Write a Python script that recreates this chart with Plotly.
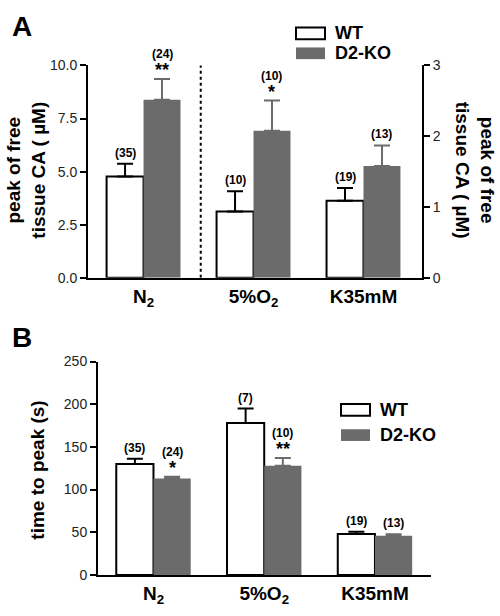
import plotly.graph_objects as go

# ---------------- data ----------------
categories = ["N<sub>2</sub>", "5%O<sub>2</sub>", "K35mM"]

# Panel A: peak of free tissue CA (µM); N2 & 5%O2 on left axis, K35mM on right axis
a_left_cats = ["N<sub>2</sub>", "5%O<sub>2</sub>"]
a_wt_left = [4.77, 3.12]
a_wt_left_err = [0.60, 0.96]
a_ko_left = [8.39, 6.93]
a_ko_left_err = [0.97, 1.42]
a_right_cats = ["K35mM"]
a_wt_right = [1.09]
a_wt_right_err = [0.18]
a_ko_right = [1.58]
a_ko_right_err = [0.29]
a_wt_n = ["(35)", "(10)", "(19)"]
a_ko_n = ["(24)", "(10)", "(13)"]
a_wt_sig = ["", "", ""]
a_ko_sig = ["**", "*", ""]
a_left_ticks = [0, 2.5, 5.0, 7.5, 10.0]
a_right_ticks = [0, 1, 2, 3]

# Panel B: time to peak (s)
b_wt = [130, 178, 48]
b_wt_err = [6, 17, 2.5]
b_ko = [113, 128, 46]
b_ko_err = [2, 9, 1.5]
b_wt_n = ["(35)", "(7)", "(19)"]
b_ko_n = ["(24)", "(10)", "(13)"]
b_wt_sig = ["", "", ""]
b_ko_sig = ["*", "**", ""]
b_ticks = [0, 50, 100, 150, 200, 250]

# ---------------- style ----------------
FONT = "Liberation Sans"
KO_COLOR = "#6b6b6b"
BW = 0.336  # bar width in category units
W, H = 500, 616

fig = go.Figure()


def add_bars(x, y, err, group, xa, ya):
    wt = group == "WT"
    fig.add_trace(go.Bar(
        x=x, y=y,
        offset=-BW if wt else 0, width=BW,
        marker=dict(color="white" if wt else KO_COLOR,
                    line=dict(color="black" if wt else KO_COLOR, width=2 if wt else 0)),
        error_y=dict(type="data", array=err, arrayminus=[0] * len(err), symmetric=False,
                     color="black" if wt else KO_COLOR, thickness=2, width=8),
        xaxis=xa, yaxis=ya, showlegend=False, name=group,
    ))


add_bars(a_left_cats, a_wt_left, a_wt_left_err, "WT", "x", "y")
add_bars(a_left_cats, a_ko_left, a_ko_left_err, "D2-KO", "x", "y")
add_bars(a_right_cats, a_wt_right, a_wt_right_err, "WT", "x", "y2")
add_bars(a_right_cats, a_ko_right, a_ko_right_err, "D2-KO", "x", "y2")
add_bars(categories, b_wt, b_wt_err, "WT", "x2", "y3")
add_bars(categories, b_ko, b_ko_err, "D2-KO", "x2", "y3")


def add_labels(cats, vals, errs, ns, sigs, center, xref, yref):
    for c, v, e, n, s in zip(cats, vals, errs, ns, sigs):
        xi = categories.index(c) + center
        top = v + e
        if s:
            fig.add_annotation(x=xi, y=top, xref=xref, yref=yref, text=f"<b>{s}</b>",
                               showarrow=False, xanchor="center", yanchor="bottom", yshift=-3,
                               font=dict(family=FONT, size=18, color="black"))
            shift = 25
        else:
            shift = 11
        fig.add_annotation(x=xi, y=top, xref=xref, yref=yref, text=f"<b>{n}</b>",
                           showarrow=False, xanchor="center", yanchor="middle", yshift=shift,
                           font=dict(family=FONT, size=12, color="black"))


add_labels(a_left_cats, a_wt_left, a_wt_left_err, a_wt_n[:2], a_wt_sig[:2], -BW / 2, "x", "y")
add_labels(a_left_cats, a_ko_left, a_ko_left_err, a_ko_n[:2], a_ko_sig[:2], BW / 2, "x", "y")
add_labels(a_right_cats, a_wt_right, a_wt_right_err, a_wt_n[2:], a_wt_sig[2:], -BW / 2, "x", "y2")
add_labels(a_right_cats, a_ko_right, a_ko_right_err, a_ko_n[2:], a_ko_sig[2:], BW / 2, "x", "y2")
add_labels(categories, b_wt, b_wt_err, b_wt_n, b_wt_sig, -BW / 2, "x2", "y3")
add_labels(categories, b_ko, b_ko_err, b_ko_n, b_ko_sig, BW / 2, "x2", "y3")

tickfont = dict(family=FONT, size=14, color="#222")
catfont = dict(family=FONT, size=19, color="black", weight="bold")
yax = dict(showline=True, linecolor="black", linewidth=2, ticks="outside", ticklen=6,
           tickwidth=2, tickcolor="black", showgrid=False, zeroline=False, tickfont=tickfont)
xax = dict(showline=True, linecolor="black", linewidth=2, ticks="", showgrid=False,
           zeroline=False, tickfont=catfont, categoryorder="array", categoryarray=categories)

fig.update_layout(
    width=W, height=H, margin=dict(l=0, r=0, t=0, b=0),
    paper_bgcolor="white", plot_bgcolor="white", barmode="overlay",
    font=dict(family=FONT),
    xaxis=dict(xax, domain=[88 / W, 422 / W], range=[-0.505, 2.532], anchor="y"),
    yaxis=dict(yax, domain=[1 - 277 / H, 1 - 59 / H], range=[0, 10], tickvals=a_left_ticks,
               ticktext=[f"{t:.1f}" for t in a_left_ticks], anchor="x"),
    yaxis2=dict(yax, overlaying="y", side="right", anchor="x", range=[0, 3],
                tickvals=a_right_ticks),
    xaxis2=dict(xax, domain=[98 / W, 431 / W], range=[-0.501, 2.506], anchor="y3"),
    yaxis3=dict(yax, domain=[1 - 582 / H, 1 - 363 / H], range=[0, 250], tickvals=b_ticks,
                anchor="x2"),
)

# dashed divider in panel A
fig.add_shape(type="line", xref="x", yref="y", x0=0.52, x1=0.52, y0=0, y1=10.2,
              line=dict(color="black", width=2, dash="dot"))

# panel letters
fig.add_annotation(x=10 / W, y=1 - 19 / H, xref="paper", yref="paper", text="<b>A</b>",
                   showarrow=False, xanchor="left", yanchor="middle",
                   font=dict(family=FONT, size=28, color="black"))
fig.add_annotation(x=10 / W, y=1 - 338 / H, xref="paper", yref="paper", text="<b>B</b>",
                   showarrow=False, xanchor="left", yanchor="middle",
                   font=dict(family=FONT, size=28, color="black"))

# axis titles
title_font = dict(family=FONT, size=19, color="black")
fig.add_annotation(x=26 / W, y=1 - 167 / H, xref="paper", yref="paper",
                   text="<b>peak of free<br>tissue CA ( µM)</b>", textangle=-90,
                   xanchor="center", yanchor="middle",
                   showarrow=False, font=title_font)
fig.add_annotation(x=475 / W, y=1 - 166 / H, xref="paper", yref="paper",
                   text="<b>peak of free<br>tissue CA ( µM)</b>", textangle=90,
                   xanchor="center", yanchor="middle",
                   showarrow=False, font=title_font)
fig.add_annotation(x=38 / W, y=1 - 475 / H, xref="paper", yref="paper",
                   text="<b>time to peak (s)</b>", textangle=-90,
                   xanchor="center", yanchor="middle",
                   showarrow=False, font=title_font)

# legends
def legend(x0, y_wt, y_ko):
    for label, yc, fill, lw in [("WT", y_wt, "white", 2), ("D2-KO", y_ko, KO_COLOR, 0)]:
        fig.add_shape(type="rect", xref="paper", yref="paper",
                      x0=x0 / W, x1=(x0 + 29) / W, y0=1 - (yc + 6) / H, y1=1 - (yc - 6) / H,
                      fillcolor=fill, line=dict(color="black" if lw else fill, width=lw))
        fig.add_annotation(x=(x0 + 37) / W, y=1 - yc / H, xref="paper", yref="paper",
                           text=f"<b>{label}</b>", showarrow=False, xanchor="left",
                           yanchor="middle", font=dict(family=FONT, size=18, color="black"))


legend(296, 26, 46.5)
legend(341, 412.5, 438.5)

fig.write_html("out.html")
